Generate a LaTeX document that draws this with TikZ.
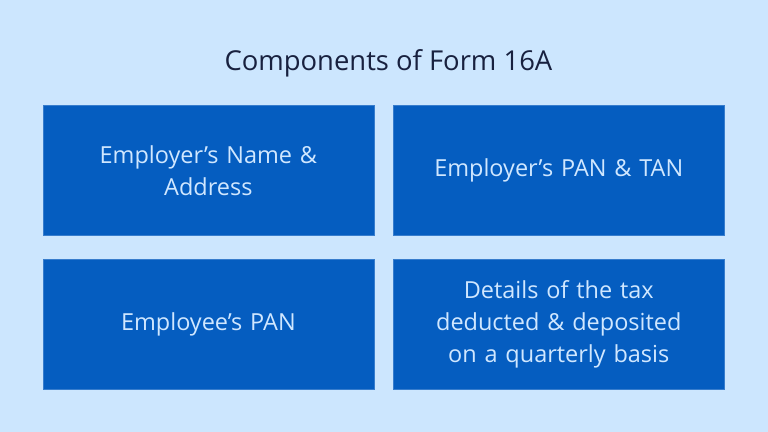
\documentclass[tikz,border=0pt]{standalone}
\usepackage{fontspec}
\setmainfont{Open Sans}
\usetikzlibrary{positioning}
\definecolor{pagebg}{HTML}{CCE6FE}
\definecolor{boxblue}{HTML}{055DC0}
\definecolor{boxtext}{HTML}{D0E7FF}
\definecolor{titlenavy}{HTML}{18213F}
\tikzset{
  part/.style={fill=boxblue, draw=boxblue!80!white, line width=0.4pt,
    minimum width=8.275cm, minimum height=3.24cm, inner sep=0pt,
    text=boxtext, align=center, text width=7cm,
    font=\fontsize{16.7}{22.6}\selectfont},
}
\begin{document}
\begin{tikzpicture}
\fill[pagebg] (0,0) rectangle (19.2,10.8);
\useasboundingbox (0,0) rectangle (19.2,10.8);
\node[text=titlenavy, font=\fontsize{19.5}{23}\selectfont] (title) at (9.71,9.22) {Components of Form 16A};
% the four parts
\node[part] (emprname) at (5.21,6.54) {Employer’s Name \&\\Address};
\node[part, right=0.47cm of emprname] (emprpan) {Employer’s PAN \& TAN};
\node[part, below=0.6cm of emprname] (empepan) {Employee’s PAN};
\node[part, below=0.6cm of emprpan] (taxdetails) {Details of the tax\\deducted \& deposited\\on a quarterly basis};
\end{tikzpicture}
\end{document}
